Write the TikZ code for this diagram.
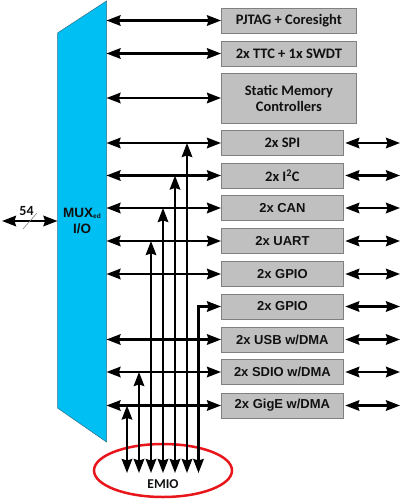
\documentclass[tikz,border=0pt]{standalone}
\usepackage{fontspec}
\setmainfont{Liberation Sans}
\newfontfamily\calfont{Carlito}
\newfontfamily\arifont{Liberation Sans}
\usetikzlibrary{arrows.meta,shapes.geometric}
\definecolor{muxblue}{HTML}{00BFF3}
\definecolor{muxline}{HTML}{2E6E86}
\definecolor{boxgray}{HTML}{C0C0C0}
\definecolor{boxline}{HTML}{808080}
\definecolor{emiored}{HTML}{E8151B}
\definecolor{txt}{HTML}{111111}
\begin{document}
\begin{tikzpicture}[x=1pt,y=-1pt,
  blk/.style={draw=boxline, fill=boxgray, line width=0.8pt, anchor=west,
    minimum height=25pt, inner sep=0pt, text=txt, align=center},
  wideblk/.style={blk, minimum width=135pt},
  narrowblk/.style={blk, minimum width=122pt},
  calt/.style={font=\calfont\bfseries\fontsize{14.5}{16}\selectfont},
  arit/.style={font=\arifont\bfseries\fontsize{13}{15}\selectfont},
  tip/.tip={Stealth[length=14pt,width=10.5pt,inset=1.5pt]},
  link/.style={line width=2.2pt, tip-tip},
  uplink/.style={line width=2.2pt, tip-tip}]
\useasboundingbox (0,0) rectangle (401,500);

% MUX block
\fill[muxblue] (57.5,33) -- (106.5,1) -- (106.5,442) -- (57.5,408) -- cycle;
\draw[muxline, line width=0.5pt] (57.5,33) -- (106.5,1) -- (106.5,442) -- (57.5,408) -- cycle;
\node[font=\arifont\bfseries\fontsize{13.5}{16.5}\selectfont, align=center, text=txt] (muxtxt) at (82,221)
  {MUX\raisebox{-1.5pt}{\fontsize{6.5}{6.5}\selectfont ed}\\I/O};
\coordinate (muxR) at (106.5,0);
\coordinate (muxL) at (57.5,221);
\coordinate (extL) at (2,221);
\coordinate (extR) at (400,0);

% external 54 pins
\draw[link] (extL) -- (muxL);
\node[font=\calfont\bfseries\fontsize{14}{16}\selectfont, text=txt] (n54) at (26.5,211) {54};
\coordinate (s1) at (23,229);
\coordinate (s2) at (37,213);
\draw[gray, line width=0.6pt] (s1) -- (s2);

% blocks
\node[wideblk, calt] (pjtag) at (221,20.5) {PJTAG + Coresight};
\node[wideblk, calt] (ttc) at (221,53.5) {2x TTC + 1x SWDT};
\node[wideblk, calt, minimum height=50pt] (smc) at (221,98) {Static Memory\\Controllers};
\node[narrowblk, calt] (spi) at (221,143) {2x SPI};
\node[narrowblk, calt] (iic) at (221,175.5) {2x I\textsuperscript{2}C};
\node[narrowblk, arit] (can) at (221,208) {2x CAN};
\node[narrowblk, arit] (uart) at (221,241) {2x UART};
\node[narrowblk, arit] (gpioa) at (221,274) {2x GPIO};
\node[narrowblk, arit] (gpiob) at (221,306.5) {2x GPIO};
\node[narrowblk, arit] (usb) at (221,339.5) {2x USB w/DMA};
\node[narrowblk, arit] (sdio) at (221,372) {2x SDIO w/DMA};
\node[narrowblk, arit] (gige) at (221,405.5) {2x GigE w/DMA};

% EMIO ellipse
\node[ellipse, draw=emiored, line width=2.5pt, minimum width=138pt, minimum height=53pt, inner sep=0pt] (emio) at (163,470.5) {};
\node[font=\calfont\bfseries\fontsize{13.5}{15}\selectfont, text=txt] (emiotxt) at (163,484) {EMIO};

% MUX to blocks
\foreach \b in {pjtag,ttc,smc,spi,iic,can,uart,gpioa,usb,sdio,gige}
  \draw[link] (muxR |- \b.west) -- (\b.west);

% blocks to outside
\foreach \b in {spi,iic,can,uart,gpioa,gpiob,usb,sdio,gige}
  \draw[link] ([xshift=1.5pt]\b.east) -- (extR |- \b.east);

% EMIO verticals
\coordinate (v1) at (127,473);
\coordinate (v2) at (139,473);
\coordinate (v3) at (151,473);
\coordinate (v4) at (163,473);
\coordinate (v5) at (175,473);
\coordinate (v6) at (187,473);
\coordinate (v7) at (198.5,473);
\draw[uplink] (v1) -- (v1 |- gige.west);
\draw[uplink] (v2) -- (v2 |- sdio.west);
\draw[uplink] (v3) -- (v3 |- uart.west);
\draw[uplink] (v4) -- (v4 |- can.west);
\draw[uplink] (v5) -- (v5 |- iic.west);
\draw[uplink] (v6) -- (v6 |- spi.west);
\draw[link] (v7) |- (gpiob.west);
\end{tikzpicture}
\end{document}
